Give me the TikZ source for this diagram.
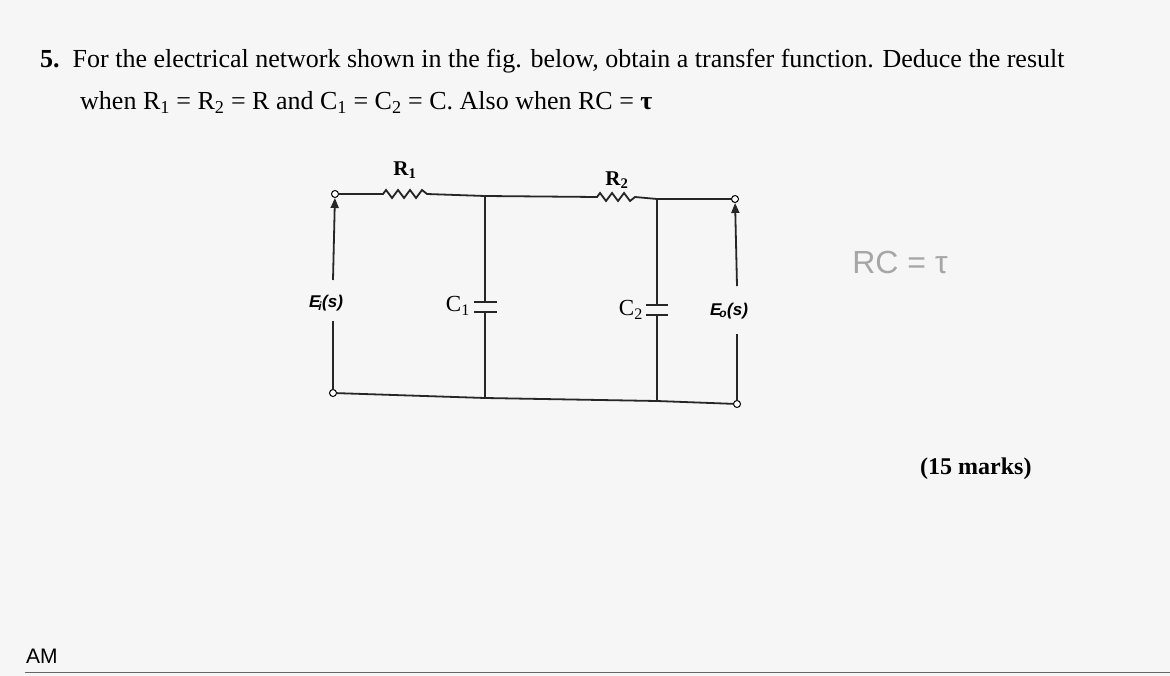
\documentclass[tikz,border=0pt]{standalone}
\usepackage{fontspec}
\setmainfont{Liberation Serif}
\setsansfont{Liberation Sans}
\usetikzlibrary{arrows.meta}
\begin{document}
\begin{tikzpicture}[x=1pt,y=-1pt,
  term/.style={circle,draw,fill=white,inner sep=0pt,minimum size=7pt,line width=1pt},
  wire/.style={line width=1.8pt,draw=black!85},
  lbl/.style={font=\fontsize{23}{25}\selectfont,inner sep=0pt},
  vlbl/.style={font=\sffamily\bfseries\itshape\fontsize{17}{19}\selectfont,inner sep=0pt},
  txt/.style={font=\fontsize{26}{28}\selectfont,anchor=base west,inner sep=0pt}]
\fill[white!93!gray] (0,0) rectangle (1170,676);
\useasboundingbox (0,0) rectangle (1170,676);
% texts
\node[txt] (q) at (40,68) {\textbf{5.}\ \ For the electrical network shown in the fig. below, obtain a transfer function. Deduce the result};
\node[txt] (q2) at (80,110) {when R\textsubscript{1} = R\textsubscript{2} = R and C\textsubscript{1} = C\textsubscript{2} = C. Also when RC = \textbf{τ}};
\node[txt,font=\bfseries\fontsize{24}{26}\selectfont] (mk) at (920,474) {(15 marks)};
\node[txt,font=\sffamily\fontsize{21}{23}\selectfont] (am) at (26,663) {AM};
\draw[line width=1pt,black!60] (25,672) -- (1170,672);
\node[font=\sffamily\fontsize{32}{34}\selectfont,text=gray!70] (rc) at (900,262) {RC = τ};
% terminals
\node[term] (a) at (335,194) {};
\node[term] (b) at (333,393) {};
\node[term] (c) at (735,199) {};
\node[term] (d) at (737,404) {};
\coordinate (n1) at (485,196);
\coordinate (n2) at (657,199);
\coordinate (g1) at (485,398);
\coordinate (g2) at (657,401);
% top wire with resistors
\draw[wire] (a) -- (383,194) -- ++(3,-4) -- ++(6,8) -- ++(6,-8) -- ++(6,8) -- ++(6,-8) -- ++(6,8) -- ++(6,-8) -- ++(5,4) -- (n1)
  -- (597,197) -- ++(3,-4) -- ++(6,8) -- ++(6,-8) -- ++(6,8) -- ++(6,-8) -- ++(6,8) -- ++(5,-4) -- (n2) -- (c);
\draw[wire] (b) -- (g1) -- (g2) -- (d);
% capacitors
\draw[wire] (n1) -- (485,302) (485,312) -- (g1);
\draw[wire] (474,302) -- (497,302) (474,312) -- (497,312);
\draw[wire] (n2) -- (657,305) (657,315) -- (g2);
\draw[wire] (646,305) -- (668,305) (646,315) -- (668,315);
\node[lbl,anchor=east] (c1) at (470,306) {C\textsubscript{1}};
\node[lbl,anchor=east] (c2) at (643,310) {C\textsubscript{2}};
\node[lbl,font=\bfseries\fontsize{21}{23}\selectfont] (r1) at (405,170) {R\textsubscript{1}};
\node[lbl,font=\bfseries\fontsize{21}{23}\selectfont] (r2) at (617,180) {R\textsubscript{2}};
% voltage arrows
\node[vlbl] (ei) at (326,303) {E\textsubscript{\!i}(s)};
\node[vlbl] (eo) at (729,311) {E\textsubscript{\!o}(s)};
\draw[wire,-{Triangle[length=10pt,width=8pt]}] (333,280) -- (a);
\draw[wire] (333,321) -- (b);
\draw[wire,-{Triangle[length=10pt,width=8pt]}] (737,286) -- (c);
\draw[wire] (737,334) -- (d);
\end{tikzpicture}
\end{document}
